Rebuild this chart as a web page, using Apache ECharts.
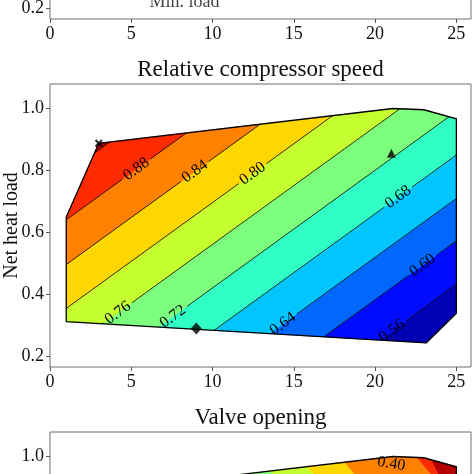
<!DOCTYPE html>
<html><head><meta charset="utf-8">
<script src="https://cdn.jsdelivr.net/npm/echarts@6/dist/echarts.min.js"></script>
<style>html,body{margin:0;padding:0;background:#fff}#c{width:474px;height:474px}</style>
</head><body><div id="c"></div>
<script>
// ---------- data ----------
const xTickValues = [0, 5, 10, 15, 20, 25];
const yTickValues = [0.2, 0.4, 0.6, 0.8, 1.0];
const subplotTitles = ['Relative compressor speed', 'Valve opening'];
const yAxisTitle = 'Net heat load';

// operating envelope (closed polygon, x = compressor speed axis, y = net heat load)
const envelopeX = [1, 1, 3, 21.1, 23, 25, 25, 23.15];
const envelopeY = [0.311, 0.648, 0.886, 0.998, 0.994, 0.965, 0.338, 0.243];

// markers
const starPoint = [3, 0.886];
const diamondPoint = [9, 0.289];
const trianglePoint = [21, 0.854];

// relative compressor speed: filled bands 0.52 ... 0.96 (step 0.04)
const speedLevels = [0.52, 0.56, 0.60, 0.64, 0.68, 0.72, 0.76, 0.80, 0.84, 0.88, 0.92, 0.96];
const speedColors = ['#0000b4', '#000bff', '#0068ff', '#00c5ff', '#30ffc6', '#7cff7c',
                     '#c6ff30', '#ffd700', '#ff8100', '#ff2b00', '#b40000'];
// inner contour lines 0.56 ... 0.92: x where each line crosses y = 0.2 and y = 1.0
const speedLineX02 = [18.9, 15.2, 11.6, 7.9, 4.2, 0.5, -3.06, -6.79, -10.59, -14.54];
const speedLineX10 = [40.0, 36.3, 32.7, 29.0, 25.3, 21.6, 18.05, 14.32, 10.52, 6.57];
// inline labels: line index, approx. position
const speedLabelLine = [0, 1, 2, 3, 4, 5, 6, 7, 8];
const speedLabelX = [21.0, 22.9, 14.3, 21.4, 7.57, 4.18, 12.45, 8.91, 5.35];
const speedLabelY = [0.284, 0.494, 0.306, 0.714, 0.327, 0.339, 0.789, 0.795, 0.80];

// valve opening (only its top edge is visible): bands ordered right -> left
const valveColors = ['#b40000', '#ff2b00', '#ff8100', '#ffd700', '#c6ff30', '#7cff7c'];
const valveLineX02 = [31.0, 35.2, 30.47, 27.94, 25.42];
const valveLineX10 = [23.3, 22.46, 17.77, 15.24, 12.72];
const valveLabelText = ['0.40'];
const valveLabelX = [21.0];
const valveLabelY = [0.974];

// upper subplot (only its bottom visible)
const minLoadText = 'Min. load';
const minLoadPos = [8.27, 0.22];

// ---------- helpers ----------
const FONT = '"Liberation Serif", "Times New Roman", serif';
function lineSide(x02, x10) {
  return p => p[0] - (x02 + (p[1] - 0.2) / 0.8 * (x10 - x02));
}
function clipHalf(poly, f) { // keep f >= 0
  const out = [];
  for (let i = 0; i < poly.length; i++) {
    const a = poly[i], b = poly[(i + 1) % poly.length];
    const fa = f(a), fb = f(b);
    if (fa >= 0) out.push(a);
    if ((fa >= 0) !== (fb >= 0)) {
      const t = fa / (fa - fb);
      out.push([a[0] + t * (b[0] - a[0]), a[1] + t * (b[1] - a[1])]);
    }
  }
  return out;
}
function lineInside(poly, f) { // segments of line f=0 inside polygon
  const pts = [];
  for (let i = 0; i < poly.length; i++) {
    const a = poly[i], b = poly[(i + 1) % poly.length];
    const fa = f(a), fb = f(b);
    if ((fa >= 0) !== (fb >= 0)) {
      const t = fa / (fa - fb);
      pts.push([a[0] + t * (b[0] - a[0]), a[1] + t * (b[1] - a[1])]);
    }
  }
  pts.sort((p, q) => p[1] - q[1]);
  const segs = [];
  for (let i = 0; i + 1 < pts.length; i += 2) segs.push([pts[i], pts[i + 1]]);
  return segs;
}

function contourRenderer(lineX02, lineX10, colors, labels, drawLines) {
  return function (params, api) {
    const poly = envelopeX.map((x, i) => [x, envelopeY[i]]);
    const sides = lineX02.map((a, i) => lineSide(a, lineX10[i]));
    const children = [];
    for (let k = 0; k < colors.length; k++) {
      let p = poly;
      if (k > 0) { const f = sides[k - 1]; p = clipHalf(p, q => -f(q)); }
      if (k < sides.length) p = clipHalf(p, sides[k]);
      if (p.length >= 3) {
        children.push({ type: 'polygon', shape: { points: p.map(q => api.coord(q)) },
          style: { fill: colors[k], stroke: colors[k], lineWidth: 0.6 } });
      }
    }
    if (drawLines) {
      sides.forEach((f, li) => {
        const segs = lineInside(poly, f);
        const labs = labels.filter(l => l.line === li);
        segs.forEach(s => {
          const P0 = api.coord(s[0]), P1 = api.coord(s[1]);
          const dx = P1[0] - P0[0], dy = P1[1] - P0[1];
          const L = Math.hypot(dx, dy);
          const ux = dx / L, uy = dy / L;
          const gaps = [];
          labs.forEach(l => {
            const C = api.coord([l.x, l.y]);
            const t = (C[0] - P0[0]) * ux + (C[1] - P0[1]) * uy;
            if (t > 0 && t < L) {
              gaps.push([t - 17, t + 17]);
              const cx = P0[0] + ux * t, cy = P0[1] + uy * t;
              let ang = Math.atan2(-uy, ux);
              if (ang > Math.PI / 2) ang -= Math.PI;
              if (ang < -Math.PI / 2) ang += Math.PI;
              children.push({ type: 'text', x: cx, y: cy, rotation: ang, z2: 20,
                style: { text: l.text, fill: '#000', font: '16px ' + FONT,
                  align: 'center', verticalAlign: 'middle', textAlign: 'center', textVerticalAlign: 'middle' } });
            }
          });
          gaps.sort((a, b) => a[0] - b[0]);
          let cur = 0;
          const pieces = [];
          gaps.forEach(g => { if (g[0] > cur) pieces.push([cur, g[0]]); cur = Math.max(cur, g[1]); });
          if (cur < L) pieces.push([cur, L]);
          pieces.forEach(pc => {
            children.push({ type: 'line', z2: 10,
              shape: { x1: P0[0] + ux * pc[0], y1: P0[1] + uy * pc[0], x2: P0[0] + ux * pc[1], y2: P0[1] + uy * pc[1] },
              style: { stroke: '#000', lineWidth: 0.8 } });
          });
        });
      });
    } else {
      labels.forEach(l => {
        const C = api.coord([l.x, l.y]);
        children.push({ type: 'text', x: C[0], y: C[1], rotation: l.rot || 0, z2: 20,
          style: { text: l.text, fill: '#000', font: '16px ' + FONT,
            align: 'center', verticalAlign: 'middle', textAlign: 'center', textVerticalAlign: 'middle' } });
      });
    }
    children.push({ type: 'polygon', z2: 15, shape: { points: poly.map(q => api.coord(q)) },
      style: { fill: 'none', stroke: '#000', lineWidth: 1.3 } });
    return { type: 'group', children };
  };
}

const speedLabels = speedLabelLine.map((li, i) => ({
  line: li, x: speedLabelX[i], y: speedLabelY[i], text: speedLevels[li + 1].toFixed(2) }));
const valveLabels = valveLabelText.map((t, i) => ({ x: valveLabelX[i], y: valveLabelY[i], text: t, rot: -0.17 }));

// ---------- chart ----------
const gridTops = [-264, 84, 432];
const grid = gridTops.map(t => ({ left: 50, width: 421, top: t, height: 283, show: true,
  borderColor: '#6e6e6e', borderWidth: 1, containLabel: false, outerBoundsMode: 'none' }));
const xAxis = gridTops.map((t, i) => ({ type: 'value', gridIndex: i, min: 0, max: 25.9,
  axisLine: { show: false, onZero: false },
  axisTick: { show: true, length: 4, customValues: xTickValues, lineStyle: { color: '#555', width: 1 } },
  axisLabel: { customValues: xTickValues, fontFamily: FONT, fontSize: 18, color: '#111', margin: 6 },
  splitLine: { show: false } }));
const yAxis = gridTops.map((t, i) => ({ type: 'value', gridIndex: i, min: 0.165, max: 1.077,
  name: i === 1 ? yAxisTitle : '', nameLocation: 'middle', nameGap: 28, nameRotate: 90,
  nameMoveOverlap: false,
  nameTextStyle: { fontFamily: FONT, fontSize: 20, color: '#111' },
  axisLine: { show: false, onZero: false },
  axisTick: { show: true, length: 4, customValues: yTickValues, lineStyle: { color: '#555', width: 1 } },
  axisLabel: { customValues: yTickValues, fontFamily: FONT, fontSize: 18, color: '#111', margin: 6,
    formatter: v => v.toFixed(1) },
  splitLine: { show: false } }));

const xPath = 'path://M0,2 L2,0 L5,3 L8,0 L10,2 L7,5 L10,8 L8,10 L5,7 L2,10 L0,8 L3,5 Z';

const option = {
  animation: false,
  backgroundColor: '#fff',
  title: [
    { text: subplotTitles[0], left: 260.5, textAlign: 'center', top: 58, padding: 0,
      textStyle: { fontFamily: FONT, fontSize: 23, fontWeight: 'normal', color: '#111' } },
    { text: subplotTitles[1], left: 260.5, textAlign: 'center', top: 406, padding: 0,
      textStyle: { fontFamily: FONT, fontSize: 23, fontWeight: 'normal', color: '#111' } }
  ],
  grid, xAxis, yAxis,
  series: [
    { type: 'custom', xAxisIndex: 1, yAxisIndex: 1, clip: false, data: [[0, 0]],
      renderItem: contourRenderer(speedLineX02, speedLineX10, speedColors, speedLabels, true) },
    { type: 'custom', xAxisIndex: 2, yAxisIndex: 2, clip: false, data: [[0, 0]],
      renderItem: contourRenderer(valveLineX02, valveLineX10, valveColors, valveLabels, false) },
    { type: 'scatter', xAxisIndex: 1, yAxisIndex: 1, z: 5, symbol: xPath, symbolSize: 8,
      itemStyle: { color: '#000' }, data: [starPoint] },
    { type: 'scatter', xAxisIndex: 1, yAxisIndex: 1, z: 5, symbol: 'diamond', symbolSize: [11, 12],
      itemStyle: { color: '#000' }, data: [diamondPoint] },
    { type: 'scatter', xAxisIndex: 1, yAxisIndex: 1, z: 5, symbol: 'triangle', symbolSize: [9, 9],
      itemStyle: { color: '#000' }, data: [trianglePoint] },
    { type: 'scatter', xAxisIndex: 0, yAxisIndex: 0, z: 5, symbolSize: 0, data: [minLoadPos],
      label: { show: true, position: 'inside', formatter: minLoadText,
        fontFamily: FONT, fontSize: 18, color: '#111' } }
  ]
};
const chart = echarts.init(document.getElementById('c'), null, { renderer: 'canvas' });
chart.setOption(option);
</script></body></html>
